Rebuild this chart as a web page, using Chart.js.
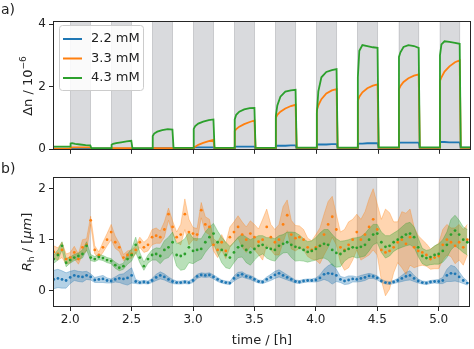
<!DOCTYPE html>
<html>
<head>
<meta charset="utf-8">
<script src="https://cdn.jsdelivr.net/npm/chart.js@4.4.1/dist/chart.umd.min.js"></script>
<style>
  body { margin: 0; background: #fff; font-family: "DejaVu Sans", sans-serif; color: #222; }
  #wrap { position: relative; width: 474px; height: 349px; overflow: hidden; }
  .panel { position: absolute; left: 0; width: 474px; }
  .panel canvas { display: block; }
  .tag { position: absolute; font-size: 14px; }
  .ytitle { position: absolute; font-size: 13px; white-space: nowrap; transform: translate(-50%, -50%) rotate(-90deg); }
  .ytitle sup, .ytitle sub { font-size: 0.7em; line-height: 0; }
  .xtitle { position: absolute; font-size: 13px; white-space: nowrap; transform: translate(-50%, -50%); }
</style>
</head>
<body>
<div id="wrap">
  <div class="panel" style="top:0;height:160px"><canvas id="dnChart" width="474" height="160"></canvas></div>
  <div class="panel" style="top:160px;height:189px"><canvas id="rhChart" width="474" height="189"></canvas></div>
  <div class="tag" style="left:1px;top:1px">a)</div>
  <div class="tag" style="left:1px;top:160px">b)</div>
  <div class="ytitle" style="left:27px;top:86px">Δn / 10<sup>−6</sup></div>
  <div class="ytitle" style="left:26px;top:242px"><i>R</i><sub>h</sub> / [<i>μm</i>]</div>
  <div class="xtitle" style="left:262px;top:339px">time / [h]</div>
</div>
<script>
// concentrations shown in the legend
const labels = ['2.2 mM', '3.3 mM', '4.3 mM'];
const colors = ['#1f77b4', '#ff7f0e', '#2ca02c'];

// shaded intervals (hours) and tick positions
const bandStarts = [2.0, 2.333, 2.667, 3.0, 3.333, 3.667, 4.0, 4.333, 4.667, 5.0];
const bandLength = 0.167;
const xTicks = [2.0, 2.5, 3.0, 3.5, 4.0, 4.5, 5.0];
const dnTicks = [0, 2, 4];
const rhTicks = [0, 1, 2];

// panel a: delta n per pulse, sampled at these offsets after each band start
const pulseOffsets = [0, 0.003, 0.015, 0.04, 0.08, 0.125, 0.163, 0.172];
const dn22 = [
  [0.02, 0.02, 0.02, 0.02, 0.02, 0.02, 0.02, 0.02],
  [0.02, 0.02, 0.02, 0.02, 0.02, 0.02, 0.02, 0.02],
  [0.02, 0.03, 0.03, 0.03, 0.03, 0.03, 0.03, 0.03],
  [0.03, 0.05, 0.06, 0.06, 0.06, 0.06, 0.06, 0.03],
  [0.03, 0.07, 0.08, 0.08, 0.08, 0.08, 0.08, 0.03],
  [0.03, 0.10, 0.11, 0.11, 0.11, 0.12, 0.12, 0.03],
  [0.04, 0.14, 0.15, 0.15, 0.15, 0.16, 0.16, 0.04],
  [0.04, 0.17, 0.18, 0.18, 0.19, 0.19, 0.19, 0.04],
  [0.04, 0.20, 0.21, 0.21, 0.21, 0.21, 0.21, 0.04],
  [0.04, 0.22, 0.23, 0.23, 0.22, 0.22, 0.22, 0.05]
];
const dn33 = [
  [0.02, 0.05, 0.06, 0.06, 0.06, 0.06, 0.06, 0.02],
  [0.02, 0.03, 0.03, 0.03, 0.03, 0.03, 0.03, 0.02],
  [0.02, 0.03, 0.03, 0.03, 0.03, 0.03, 0.03, 0.02],
  [0.02, 0.04, 0.08, 0.14, 0.20, 0.26, 0.30, 0.03],
  [0.03, 0.58, 0.64, 0.72, 0.80, 0.87, 0.92, 0.03],
  [0.03, 1.00, 1.10, 1.20, 1.30, 1.38, 1.42, 0.04],
  [0.04, 1.25, 1.40, 1.60, 1.78, 1.88, 1.92, 0.04],
  [0.04, 1.55, 1.68, 1.82, 1.95, 2.03, 2.07, 0.04],
  [0.04, 1.92, 2.02, 2.15, 2.27, 2.35, 2.39, 0.04],
  [0.04, 2.18, 2.30, 2.48, 2.65, 2.78, 2.84, 0.04]
];
const dn43 = [
  [0.08, 0.18, 0.19, 0.17, 0.15, 0.13, 0.12, 0.03],
  [0.03, 0.14, 0.17, 0.19, 0.22, 0.25, 0.27, 0.03],
  [0.03, 0.42, 0.50, 0.56, 0.61, 0.64, 0.63, 0.04],
  [0.04, 0.65, 0.74, 0.82, 0.88, 0.93, 0.95, 0.04],
  [0.04, 0.95, 1.10, 1.20, 1.27, 1.31, 1.32, 0.04],
  [0.04, 1.07, 1.40, 1.68, 1.84, 1.88, 1.90, 0.05],
  [0.05, 1.15, 1.85, 2.30, 2.47, 2.53, 2.56, 0.05],
  [0.05, 2.30, 3.15, 3.33, 3.30, 3.26, 3.24, 0.06],
  [0.06, 2.95, 3.10, 3.27, 3.33, 3.30, 3.24, 0.06],
  [0.06, 3.00, 3.35, 3.45, 3.43, 3.40, 3.37, 0.06]
];

// panel b: hydrodynamic radius every 2 min from 1.867 h, mean and half spread
const rhStart = 1.8667;
const rhStep = 1 / 30;
const rh22 = [
  0.22, 0.24, 0.22, 0.20, 0.26, 0.30, 0.28, 0.27, 0.30, 0.27,
  0.21, 0.22, 0.23, 0.20, 0.19, 0.22, 0.24, 0.23, 0.25, 0.30,
  0.18, 0.16, 0.17, 0.16, 0.20, 0.26, 0.30, 0.27, 0.22, 0.18,
  0.16, 0.16, 0.17, 0.16, 0.20, 0.28, 0.31, 0.30, 0.31, 0.27,
  0.22, 0.18, 0.16, 0.15, 0.24, 0.30, 0.32, 0.28, 0.26, 0.22,
  0.18, 0.17, 0.22, 0.26, 0.31, 0.34, 0.30, 0.26, 0.22, 0.18,
  0.17, 0.19, 0.20, 0.20, 0.21, 0.25, 0.32, 0.34, 0.33, 0.30,
  0.22, 0.19, 0.21, 0.23, 0.22, 0.24, 0.26, 0.29, 0.28, 0.25,
  0.19, 0.16, 0.15, 0.17, 0.20, 0.24, 0.28, 0.30, 0.24, 0.19,
  0.16, 0.15, 0.17, 0.18, 0.18, 0.20, 0.30, 0.34, 0.33, 0.27,
  0.20, 0.15
];
const rh22Err = [
  0.18, 0.18, 0.17, 0.15, 0.12, 0.10, 0.10, 0.10, 0.08, 0.06,
  0.05, 0.06, 0.07, 0.05, 0.04, 0.05, 0.08, 0.10, 0.14, 0.15,
  0.04, 0.03, 0.03, 0.03, 0.04, 0.06, 0.07, 0.06, 0.05, 0.04,
  0.03, 0.03, 0.03, 0.03, 0.04, 0.04, 0.04, 0.04, 0.04, 0.04,
  0.04, 0.03, 0.03, 0.03, 0.05, 0.06, 0.05, 0.04, 0.04, 0.04,
  0.03, 0.03, 0.05, 0.06, 0.07, 0.07, 0.06, 0.05, 0.04, 0.03,
  0.03, 0.03, 0.03, 0.03, 0.04, 0.06, 0.10, 0.15, 0.20, 0.12,
  0.06, 0.07, 0.08, 0.06, 0.05, 0.06, 0.06, 0.05, 0.04, 0.04,
  0.03, 0.03, 0.03, 0.03, 0.04, 0.06, 0.08, 0.09, 0.06, 0.04,
  0.03, 0.03, 0.03, 0.03, 0.04, 0.06, 0.12, 0.16, 0.14, 0.10,
  0.06, 0.04
];
const rh33 = [
  0.76, 0.72, 0.80, 0.62, 0.65, 0.75, 0.62, 0.85, 0.90, 1.38,
  0.80, 0.70, 0.85, 1.00, 1.15, 0.95, 0.85, 0.65, 0.70, 0.72,
  0.80, 0.95, 0.85, 0.90, 1.05, 1.08, 1.05, 1.20, 1.50, 1.25,
  1.05, 1.10, 1.50, 1.15, 1.12, 1.10, 1.58, 1.30, 1.25, 0.90,
  0.80, 0.95, 0.78, 1.05, 1.15, 1.25, 1.10, 1.00, 1.12, 1.05,
  0.96, 1.00, 1.25, 1.05, 0.95, 1.00, 1.30, 1.48, 1.10, 1.03,
  1.05, 1.00, 0.85, 0.80, 0.85, 0.88, 1.10, 1.30, 1.45, 1.20,
  0.85, 0.80, 0.90, 1.00, 1.15, 1.00, 1.10, 1.25, 1.40, 1.20,
  0.80, 0.75, 0.78, 0.85, 0.95, 1.00, 0.92, 1.05, 0.85, 0.78,
  0.75, 0.70, 0.62, 0.65, 0.68, 0.90, 1.00, 0.95, 0.88, 0.95,
  0.85, 1.00
];
const rh33Err = [
  0.12, 0.12, 0.15, 0.10, 0.10, 0.12, 0.10, 0.15, 0.12, 0.08,
  0.08, 0.06, 0.10, 0.12, 0.15, 0.12, 0.08, 0.06, 0.08, 0.08,
  0.08, 0.10, 0.10, 0.12, 0.15, 0.15, 0.12, 0.15, 0.12, 0.12,
  0.10, 0.20, 0.30, 0.25, 0.12, 0.12, 0.15, 0.15, 0.15, 0.12,
  0.15, 0.15, 0.15, 0.20, 0.20, 0.22, 0.25, 0.25, 0.25, 0.25,
  0.25, 0.40, 0.35, 0.25, 0.25, 0.30, 0.35, 0.30, 0.28, 0.25,
  0.22, 0.20, 0.18, 0.18, 0.25, 0.35, 0.40, 0.45, 0.40, 0.30,
  0.30, 0.40, 0.45, 0.40, 0.35, 0.40, 0.45, 0.55, 0.60, 0.50,
  0.60, 0.85, 0.75, 0.50, 0.40, 0.55, 0.60, 0.55, 0.40, 0.30,
  0.25, 0.22, 0.20, 0.22, 0.25, 0.30, 0.30, 0.28, 0.35, 0.35,
  0.35, 0.30
];
const rh43 = [
  0.62, 0.70, 0.88, 0.55, 0.60, 0.65, 0.68, 0.72, 0.88, 0.65,
  0.62, 0.66, 0.64, 0.60, 0.58, 0.50, 0.45, 0.48, 0.62, 0.70,
  0.90, 0.65, 0.48, 0.62, 0.70, 0.72, 0.68, 0.80, 0.85, 0.95,
  0.70, 0.68, 0.72, 0.85, 0.78, 0.80, 0.82, 0.95, 1.05, 1.12,
  0.95, 0.80, 0.70, 0.65, 0.75, 0.85, 0.88, 0.80, 0.75, 0.82,
  0.88, 0.90, 0.84, 0.82, 0.80, 0.88, 0.92, 0.95, 0.90, 0.86,
  0.84, 0.80, 0.76, 0.78, 0.82, 0.88, 0.92, 0.90, 0.80, 0.74,
  0.72, 0.78, 0.82, 0.85, 0.84, 0.86, 0.90, 1.00, 1.10, 1.12,
  0.95, 0.86, 0.88, 0.95, 1.00, 1.05, 1.10, 1.12, 1.05, 0.85,
  0.68, 0.64, 0.66, 0.70, 0.72, 0.78, 0.90, 1.10, 1.18, 1.10,
  1.00, 0.95
];
const rh43Err = [
  0.08, 0.10, 0.08, 0.08, 0.06, 0.06, 0.06, 0.08, 0.08, 0.06,
  0.05, 0.05, 0.05, 0.05, 0.05, 0.06, 0.06, 0.06, 0.10, 0.12,
  0.15, 0.10, 0.08, 0.08, 0.10, 0.12, 0.15, 0.18, 0.20, 0.20,
  0.22, 0.28, 0.30, 0.30, 0.25, 0.22, 0.20, 0.20, 0.20, 0.20,
  0.22, 0.25, 0.25, 0.22, 0.20, 0.20, 0.22, 0.25, 0.25, 0.22,
  0.20, 0.18, 0.20, 0.22, 0.22, 0.20, 0.18, 0.20, 0.25, 0.28,
  0.25, 0.22, 0.20, 0.20, 0.22, 0.25, 0.28, 0.30, 0.30, 0.28,
  0.25, 0.20, 0.18, 0.18, 0.20, 0.20, 0.22, 0.22, 0.20, 0.18,
  0.20, 0.22, 0.20, 0.18, 0.18, 0.20, 0.22, 0.22, 0.20, 0.18,
  0.15, 0.15, 0.15, 0.18, 0.20, 0.22, 0.25, 0.30, 0.30, 0.28,
  0.25, 0.25
];

const xMin = 1.86, xMax = 5.255;
const font = { family: 'DejaVu Sans', size: 12 };

function pulseSeries(bands) {
  const pts = [{ x: xMin, y: bands[0][0] }];
  bands.forEach((vals, k) => {
    pulseOffsets.forEach((off, j) => pts.push({ x: bandStarts[k] + off, y: vals[j] }));
  });
  const last = bands[bands.length - 1];
  pts.push({ x: xMax, y: last[last.length - 1] });
  return pts;
}

function rhPoints(values, err, sign) {
  return values.map((v, i) => ({ x: rhStart + i * rhStep, y: v + sign * (err ? err[i] : 0) }));
}

function alpha(hex, a) {
  const n = parseInt(hex.slice(1), 16);
  return 'rgba(' + (n >> 16) + ',' + ((n >> 8) & 255) + ',' + (n & 255) + ',' + a + ')';
}

// grey stripes behind the data
const bandPlugin = {
  id: 'bands',
  beforeDatasetsDraw(chart) {
    const { ctx, chartArea: a, scales: { x } } = chart;
    ctx.save();
    ctx.beginPath();
    ctx.rect(a.left, a.top, a.right - a.left, a.bottom - a.top);
    ctx.clip();
    bandStarts.forEach(s => {
      const x0 = x.getPixelForValue(s), x1 = x.getPixelForValue(s + bandLength);
      ctx.fillStyle = '#d9dadd';
      ctx.fillRect(x0, a.top, x1 - x0, a.bottom - a.top);
      ctx.strokeStyle = '#c9cacd';
      ctx.lineWidth = 1;
      ctx.beginPath();
      ctx.moveTo(Math.round(x0) + 0.5, a.top); ctx.lineTo(Math.round(x0) + 0.5, a.bottom);
      ctx.moveTo(Math.round(x1) - 0.5, a.top); ctx.lineTo(Math.round(x1) - 0.5, a.bottom);
      ctx.stroke();
    });
    ctx.restore();
  }
};

// full box around the plot area
const framePlugin = {
  id: 'frame',
  afterDraw(chart) {
    const { ctx, chartArea: a } = chart;
    ctx.save();
    ctx.strokeStyle = '#262626';
    ctx.lineWidth = 1;
    ctx.strokeRect(Math.round(a.left) + 0.5, Math.round(a.top) + 0.5,
      Math.round(a.right - a.left) - 1, Math.round(a.bottom - a.top) - 1);
    ctx.restore();
  }
};

// legend box in the upper left corner of panel a
const legendPlugin = {
  id: 'boxLegend',
  afterDraw(chart) {
    const { ctx, chartArea: a } = chart;
    const x = a.left + 6, y = a.top + 4, w = 84, h = 65, r = 3;
    ctx.save();
    ctx.beginPath();
    ctx.roundRect(x + 0.5, y + 0.5, w, h, r);
    ctx.fillStyle = 'rgba(255,255,255,0.85)';
    ctx.fill();
    ctx.strokeStyle = '#cccccc';
    ctx.lineWidth = 1;
    ctx.stroke();
    ctx.font = '13px "DejaVu Sans"';
    ctx.textBaseline = 'middle';
    labels.forEach((t, i) => {
      const yy = y + 14 + i * 19.5;
      ctx.strokeStyle = colors[i];
      ctx.lineWidth = 2;
      ctx.beginPath();
      ctx.moveTo(x + 4, yy); ctx.lineTo(x + 23, yy);
      ctx.stroke();
      ctx.fillStyle = '#222';
      ctx.fillText(t, x + 32, yy);
    });
    ctx.restore();
  }
};

function xScale(showLabels) {
  return {
    type: 'linear', min: xMin, max: xMax,
    afterBuildTicks: s => { s.ticks = xTicks.map(v => ({ value: v })); },
    afterFit: s => { s.height = showLabels ? 20 : 9; },
    grid: { drawOnChartArea: false, drawTicks: true, tickLength: 4, color: '#262626' },
    border: { display: false },
    ticks: { display: showLabels, font, color: '#222', padding: 2, maxRotation: 0,
      callback: v => v.toFixed(1) }
  };
}

function yScale(min, max, ticks) {
  return {
    min, max,
    afterBuildTicks: s => { s.ticks = ticks.map(v => ({ value: v })); },
    afterFit: s => { s.width = 53; },
    grid: { drawOnChartArea: false, drawTicks: true, tickLength: 4, color: '#262626' },
    border: { display: false },
    ticks: { font, color: '#222', padding: 3, callback: v => String(v) }
  };
}

const common = {
  responsive: false,
  animation: false,
  events: [],
  plugins: { legend: { display: false }, tooltip: { enabled: false } }
};

new Chart(document.getElementById('dnChart'), {
  type: 'line',
  data: {
    datasets: [dn43, dn33, dn22].map((bands, i) => ({
      label: labels[2 - i],
      data: pulseSeries(bands),
      borderColor: colors[2 - i],
      borderWidth: 1.8,
      pointRadius: 0,
      fill: false,
      tension: 0
    }))
  },
  options: Object.assign({}, common, {
    layout: { padding: { left: 0, right: 3, top: 21, bottom: 0 } },
    scales: { x: xScale(false), y: yScale(-0.02, 4.1, dnTicks) }
  }),
  plugins: [bandPlugin, framePlugin, legendPlugin]
});

const rhSets = [];
[[rh22, rh22Err], [rh33, rh33Err], [rh43, rh43Err]].forEach(([v, e], i) => {
  rhSets.push({
    data: rhPoints(v, e, 1), borderColor: alpha(colors[i], 0.45), borderWidth: 0.7,
    backgroundColor: alpha(colors[i], 0.33), fill: '+1', pointRadius: 0, order: 20 - i
  });
  rhSets.push({
    data: rhPoints(v, e, -1), borderColor: alpha(colors[i], 0.45), borderWidth: 0.7,
    fill: false, pointRadius: 0, order: 20 - i
  });
  rhSets.push({
    label: labels[i], data: rhPoints(v, null, 0), showLine: false,
    pointRadius: 1.4, pointBorderWidth: 0, pointBackgroundColor: colors[i], order: 5 - i
  });
});

new Chart(document.getElementById('rhChart'), {
  type: 'line',
  data: { datasets: rhSets },
  options: Object.assign({}, common, {
    layout: { padding: { left: 0, right: 3, top: 17, bottom: 22 } },
    scales: { x: xScale(true), y: yScale(-0.32, 2.23, rhTicks) }
  }),
  plugins: [bandPlugin, framePlugin]
});
</script>
</body>
</html>
